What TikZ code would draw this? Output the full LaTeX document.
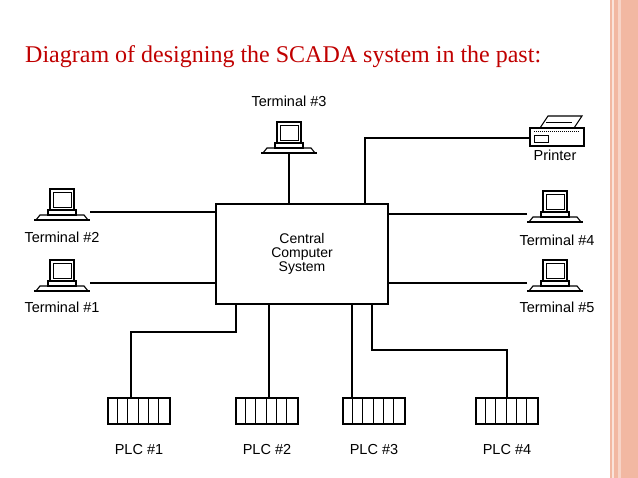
\documentclass[tikz,border=0pt]{standalone}
\usepackage{fontspec}
\setmainfont{Liberation Serif}
\newfontfamily\sans{Liberation Sans}
\usetikzlibrary{calc}
\definecolor{ttl}{HTML}{C00000}
\definecolor{stripe}{HTML}{F2B8A2}
\begin{document}
\begin{tikzpicture}[x=1pt,y=-1pt,
  lbl/.style={font=\sans\fontsize{14.5}{15}\selectfont,inner sep=0pt},
  wire/.style={line width=1.1pt},
  plc/.style={draw,line width=1.8pt,minimum width=62pt,minimum height=26pt,inner sep=0pt},
  term/.pic={
    \draw[line width=1.1pt] (-12,-18) rectangle (12,3);
    \draw[line width=0.7pt] (-9,-15) rectangle (9,0);
    \draw[line width=1.1pt] (-14,3) rectangle (14,8);
    \draw[line width=1.1pt] (-22,8) -- (22,8) -- (26,13) -- (-26,13) -- cycle;
    \draw[line width=1.8pt] (-28,13) -- (28,13);
  }]
\useasboundingbox (0,0) rectangle (638,478);
\fill[stripe] (610,0) rectangle (638,478);
\fill[stripe!60] (618,0) rectangle (621,478);
\fill[white!60!stripe] (612,0) rectangle (614,478);
\node[anchor=base west,inner sep=0pt,text=ttl,font=\fontsize{24}{26}\selectfont] (title) at (25,63) {Diagram of designing the SCADA system in the past:};

\node[draw,line width=1.1pt,minimum width=172pt,minimum height=100pt,inner sep=0pt,
  align=center,font=\sans\fontsize{14}{14}\selectfont] (cc) at (302,254) {Central\\Computer\\System};

% terminals
\pic at (289,140) {term}; \coordinate (t3) at (289,153);
\node[lbl] (l3) at (289,101) {Terminal \#3};
\pic at (62,207) {term}; \coordinate (t2) at (90,212);
\node[lbl] (l2) at (62,237) {Terminal \#2};
\pic at (62,278) {term}; \coordinate (t1) at (90,283);
\node[lbl] (l1) at (62,307) {Terminal \#1};
\pic at (555,209) {term}; \coordinate (t4) at (527,214);
\node[lbl] (l4) at (557,240) {Terminal \#4};
\pic at (555,278) {term}; \coordinate (t5) at (527,283);
\node[lbl] (l5) at (557,307) {Terminal \#5};

% printer
\draw[line width=1.1pt,fill=white] (540,128) -- (548,116) -- (582,116) -- (574,128) -- cycle;
\draw[line width=0.6pt] (546,122) -- (572,122);
\draw[line width=1.1pt,fill=white] (530,128) rectangle (584,146);
\draw[line width=0.7pt] (534,135) rectangle (548,142);
\draw[line width=0.6pt,dash pattern=on 1pt off 1pt] (534,131) -- (580,131);
\coordinate (pr) at (530,138);
\node[lbl] (lp) at (555,155) {Printer};

% PLCs
\foreach \i/\x in {1/139,2/267,3/374,4/507}{
  \node[plc] (p\i) at (\x,411) {};
  \foreach \k in {1,...,5}{\draw[line width=0.7pt] ($(p\i.north west)+(\k*10.33,0)$) -- ($(p\i.south west)+(\k*10.33,0)$);}
  \node[lbl] (lp\i) at (\x,450) {PLC \#\i};
}

% wires
\draw[wire] (t3) -- (t3 |- cc.north);
\draw[wire] (pr) -| (365,204);
\draw[wire] (t2) -- (t2 -| cc.west);
\draw[wire] (t1) -- (t1 -| cc.west);
\draw[wire] (t4) -- (t4 -| cc.east);
\draw[wire] (t5) -- (t5 -| cc.east);
\draw[wire] (236,304) |- (131,332) -- (131,398);
\draw[wire] (269,304) -- (269,398);
\draw[wire] (352,304) -- (352,398);
\draw[wire] (372,304) |- (507,350) -- (p4.north);
\end{tikzpicture}
\end{document}
